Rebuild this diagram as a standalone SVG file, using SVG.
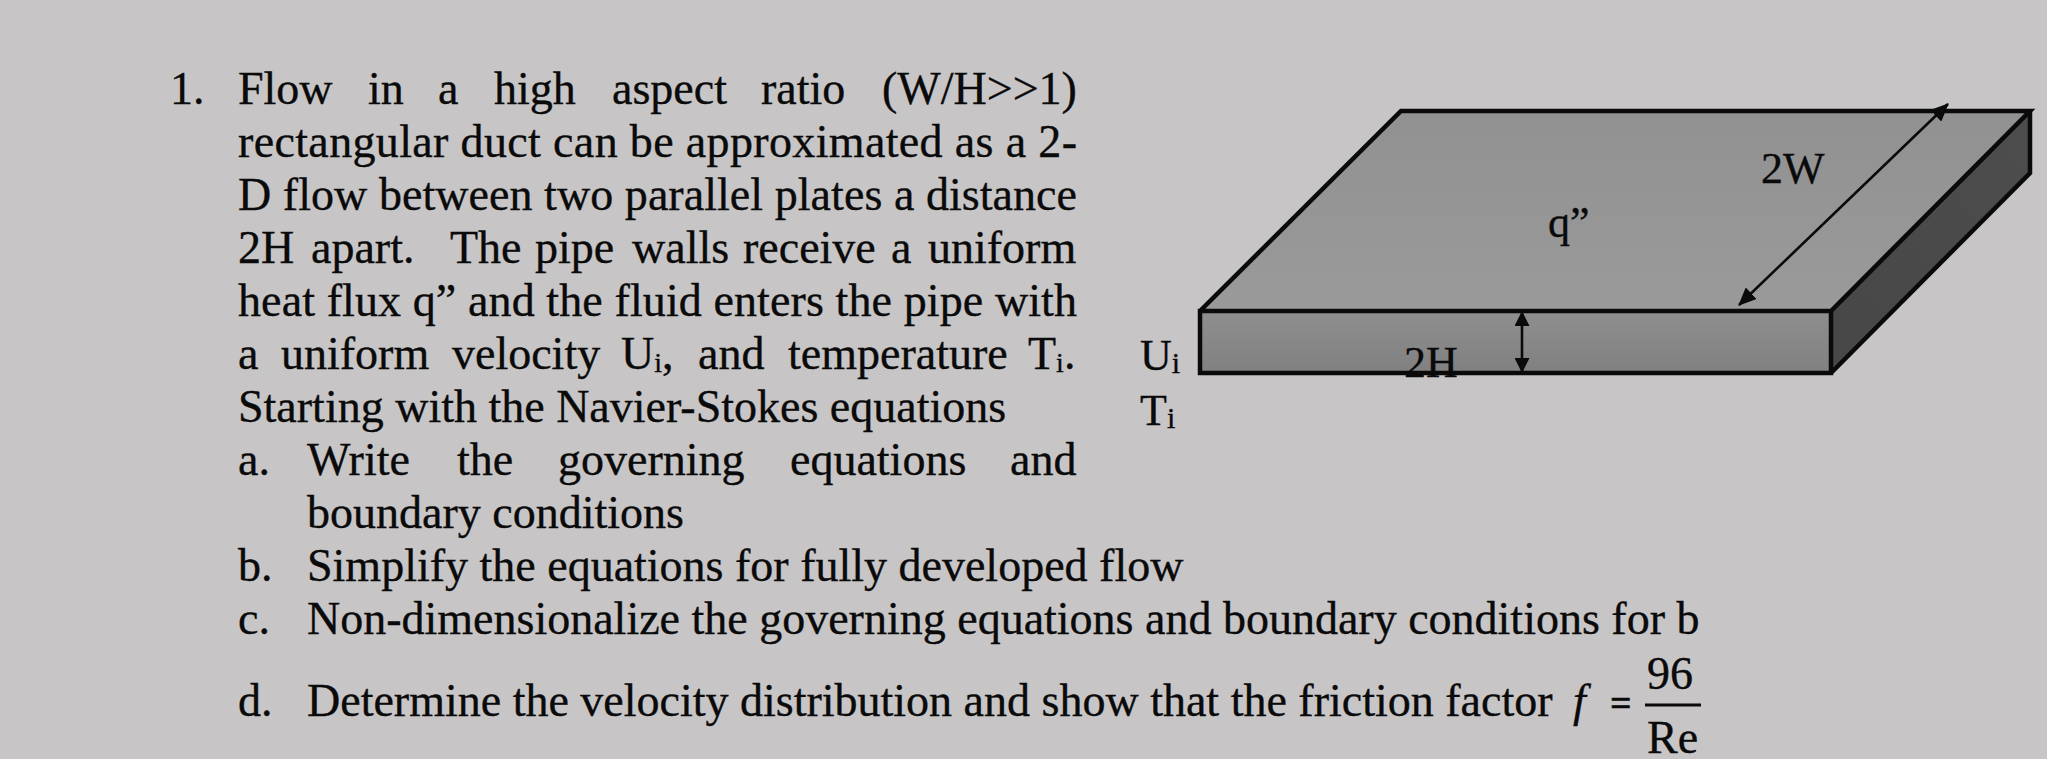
<svg xmlns="http://www.w3.org/2000/svg" width="2047" height="759" viewBox="0 0 2047 759">
<style>
text{font-family:"Liberation Serif","Times New Roman",serif;font-size:46px;fill:#0a0a0a;stroke:#0a0a0a;stroke-width:.35}
.e{stroke:#0a0a0a;stroke-width:4.5;fill:none;stroke-linejoin:miter}
.a{stroke:#0a0a0a;stroke-width:2.6;fill:none}
.s{font-size:28px}
.lab{font-size:44px}
.ls{font-size:30px}
</style>
<defs>
<linearGradient id="top" x1="0" y1="0" x2="0" y2="1"><stop offset="0" stop-color="#919191"/><stop offset="1" stop-color="#9a9a9a"/></linearGradient>
<linearGradient id="front" x1="0" y1="0" x2="0" y2="1"><stop offset="0" stop-color="#8f8f8f"/><stop offset="1" stop-color="#808080"/></linearGradient>
<linearGradient id="side" x1="1" y1="0" x2="0" y2="1"><stop offset="0" stop-color="#4d4d4d"/><stop offset="1" stop-color="#474747"/></linearGradient>
<marker id="ah" viewBox="0 0 15 15" refX="14" refY="7.5" markerWidth="15" markerHeight="15" markerUnits="userSpaceOnUse" orient="auto-start-reverse"><path d="M0 0L15 7.5L0 15Z" fill="#0a0a0a"/></marker>
<marker id="ab" viewBox="0 0 18 16" refX="17" refY="8" markerWidth="18" markerHeight="16" markerUnits="userSpaceOnUse" orient="auto-start-reverse"><path d="M0 0L18 8L0 16Z" fill="#0a0a0a"/></marker>
</defs>
<rect width="2047" height="759" fill="#c7c5c6"/>
<g id="slab">
<path d="M1200 311L1401 111H2030L1831 311Z" fill="url(#top)"/>
<rect x="1200" y="311" width="631" height="62" fill="url(#front)"/>
<path d="M1831 311L2030 111V173L1831 373Z" fill="url(#side)"/>
<path class="e" d="M1200 311L1401 111H2030L1831 311H1200V373H1831V311M2030 111V173L1831 373"/>
</g>
<g id="connectors">
<line class="a" x1="1739" y1="305" x2="1948" y2="104" marker-start="url(#ab)" marker-end="url(#ab)"/>
<line class="a" x1="1522" y1="312" x2="1522" y2="372" stroke-width="3" marker-start="url(#ah)" marker-end="url(#ah)"/>
</g>
<g id="labels">
<text class="lab" x="1761" y="183">2W</text>
<text class="lab" x="1548" y="237">q”</text>
<text class="lab" x="1404" y="377">2H</text>
<text class="lab" x="1140" y="370">U<tspan class="ls" dy="3">i</tspan></text>
<text class="lab" x="1140" y="425">T<tspan class="ls" dy="3">i</tspan></text>
</g>
<g id="body">
<text x="170" y="104">1.</text>
<text y="104"><tspan x="238">Flow</tspan><tspan x="368">in</tspan><tspan x="438">a</tspan><tspan x="494">high</tspan><tspan x="612">aspect</tspan><tspan x="761">ratio</tspan><tspan x="882">(W/H&gt;&gt;1)</tspan></text>
<text x="238" y="157" textLength="839">rectangular duct can be approximated as a 2-</text>
<text x="238" y="210" textLength="839">D flow between two parallel plates a distance</text>
<text y="263"><tspan x="238">2H</tspan><tspan x="311">apart.</tspan><tspan x="450">The</tspan><tspan x="535">pipe</tspan><tspan x="632">walls</tspan><tspan x="743">receive</tspan><tspan x="891">a</tspan><tspan x="928">uniform</tspan></text>
<text x="238" y="316" textLength="839">heat flux q” and the fluid enters the pipe with</text>
<text y="369"><tspan x="238">a</tspan><tspan x="281">uniform</tspan><tspan x="452">velocity</tspan><tspan x="621">U<tspan class="s" dy="3">i</tspan><tspan dy="-3">,</tspan></tspan><tspan x="698">and</tspan><tspan x="788">temperature</tspan><tspan x="1028">T<tspan class="s" dy="3">i</tspan><tspan dy="-3">.</tspan></tspan></text>
<text x="238" y="422">Starting with the Navier-Stokes equations</text>
<text y="475"><tspan x="238">a.</tspan><tspan x="307">Write</tspan><tspan x="457">the</tspan><tspan x="558">governing</tspan><tspan x="790">equations</tspan><tspan x="1010">and</tspan></text>
<text x="307" y="528">boundary conditions</text>
<text y="581"><tspan x="238">b.</tspan><tspan x="307">Simplify the equations for fully developed flow</tspan></text>
<text y="634"><tspan x="238">c.</tspan><tspan x="307">Non-dimensionalize the governing equations and boundary conditions for b</tspan></text>
<text y="716"><tspan x="238">d.</tspan><tspan x="307">Determine the velocity distribution and show that the friction factor</tspan></text>
</g>
<g id="formula">
<text x="1573" y="716" font-style="italic">f</text>
<text x="1610" y="716" font-weight="bold" style="font-size:38px">=</text>
<text x="1647" y="689">96</text>
<line x1="1645" y1="705" x2="1701" y2="705" stroke="#0a0a0a" stroke-width="3"/>
<text x="1647" y="753">Re</text>
</g>
</svg>
